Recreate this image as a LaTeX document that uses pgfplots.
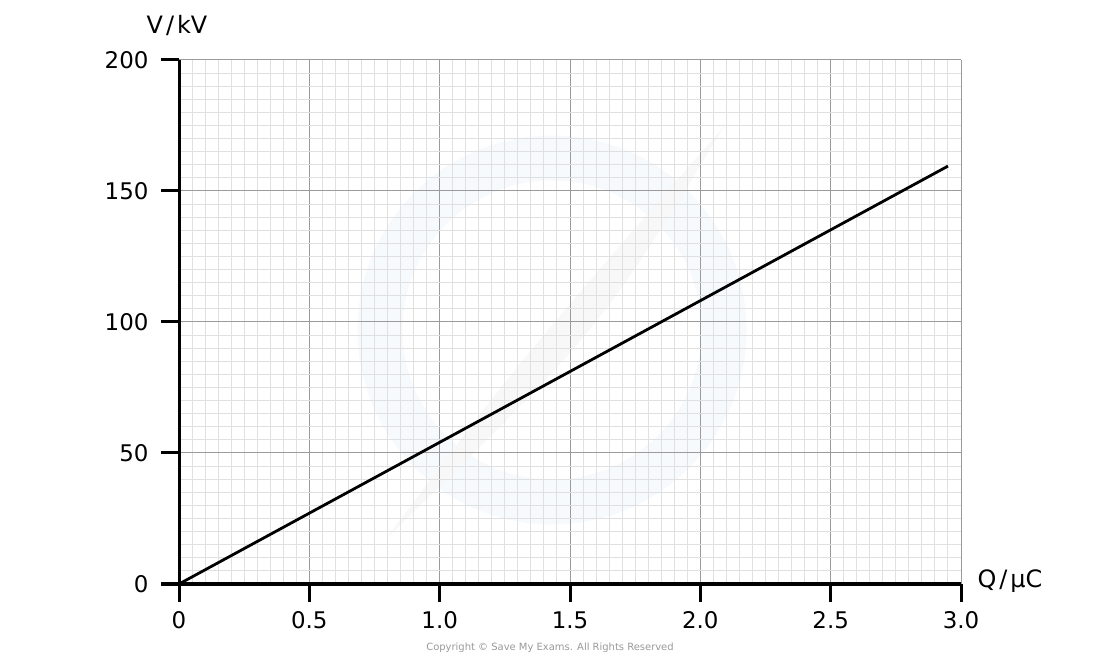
\documentclass[border=0pt]{standalone}
\usepackage{pgfplots}
\pgfplotsset{compat=1.18}
\usepackage{fontspec}
\setmainfont{DejaVu Sans}
\definecolor{majgrid}{RGB}{155,155,155}
\definecolor{mingrid}{RGB}{224,224,224}
\definecolor{wmblue}{RGB}{246,250,253}
\definecolor{wmgray}{RGB}{248,248,248}
\begin{document}
\begin{tikzpicture}
% page frame, 1100 x 660
\path[use as bounding box] (0,0) rectangle (1100bp,660bp);
% faint watermark behind the grid
\draw[wmblue, line width=45bp] (552bp,330bp) circle (172bp);
\fill[wmgray] (385bp,120bp) .. controls (520bp,300bp) .. (725bp,535bp)
  .. controls (600bp,330bp) .. cycle;
\begin{axis}[
  at={(179bp,76bp)}, anchor=south west,
  scale only axis, width=782bp, height=524bp,
  xmin=0, xmax=3, ymin=0, ymax=200,
  axis lines=left, axis line style={-, black, line width=3bp},
  xtick={0,0.5,1,1.5,2,2.5,3},
  xticklabels={0,0.5,1.0,1.5,2.0,2.5,3.0},
  ytick={0,50,100,150,200},
  minor x tick num=9, minor y tick num=9,
  grid=both,
  major grid style={majgrid, line width=1bp},
  minor grid style={mingrid, line width=1bp},
  tick align=outside,
  major tick length=18bp, minor tick length=0pt,
  every tick/.style={black, line width=3bp},
  tick label style={font=\fontsize{23}{27}\selectfont},
  /pgf/number format/assume math mode=true,
  xticklabel style={yshift=-6bp},
  yticklabel style={xshift=-9bp},
  clip=false,
]
\addplot[black, line width=2.8bp] coordinates {(0,0) (2.95,159.5)};
\end{axis}
\node[font=\fontsize{24}{28}\selectfont] at (177bp,634bp) {V\kern3pt/\kern3ptkV};
\node[anchor=west, font=\fontsize{24}{28}\selectfont] at (974bp,79bp) {Q\kern3pt/\kern3ptμC};
\node[font=\fontsize{10}{12}\selectfont, text=gray!80] at (550bp,12bp) {Copyright © Save My Exams. All Rights Reserved};
\end{tikzpicture}
\end{document}
